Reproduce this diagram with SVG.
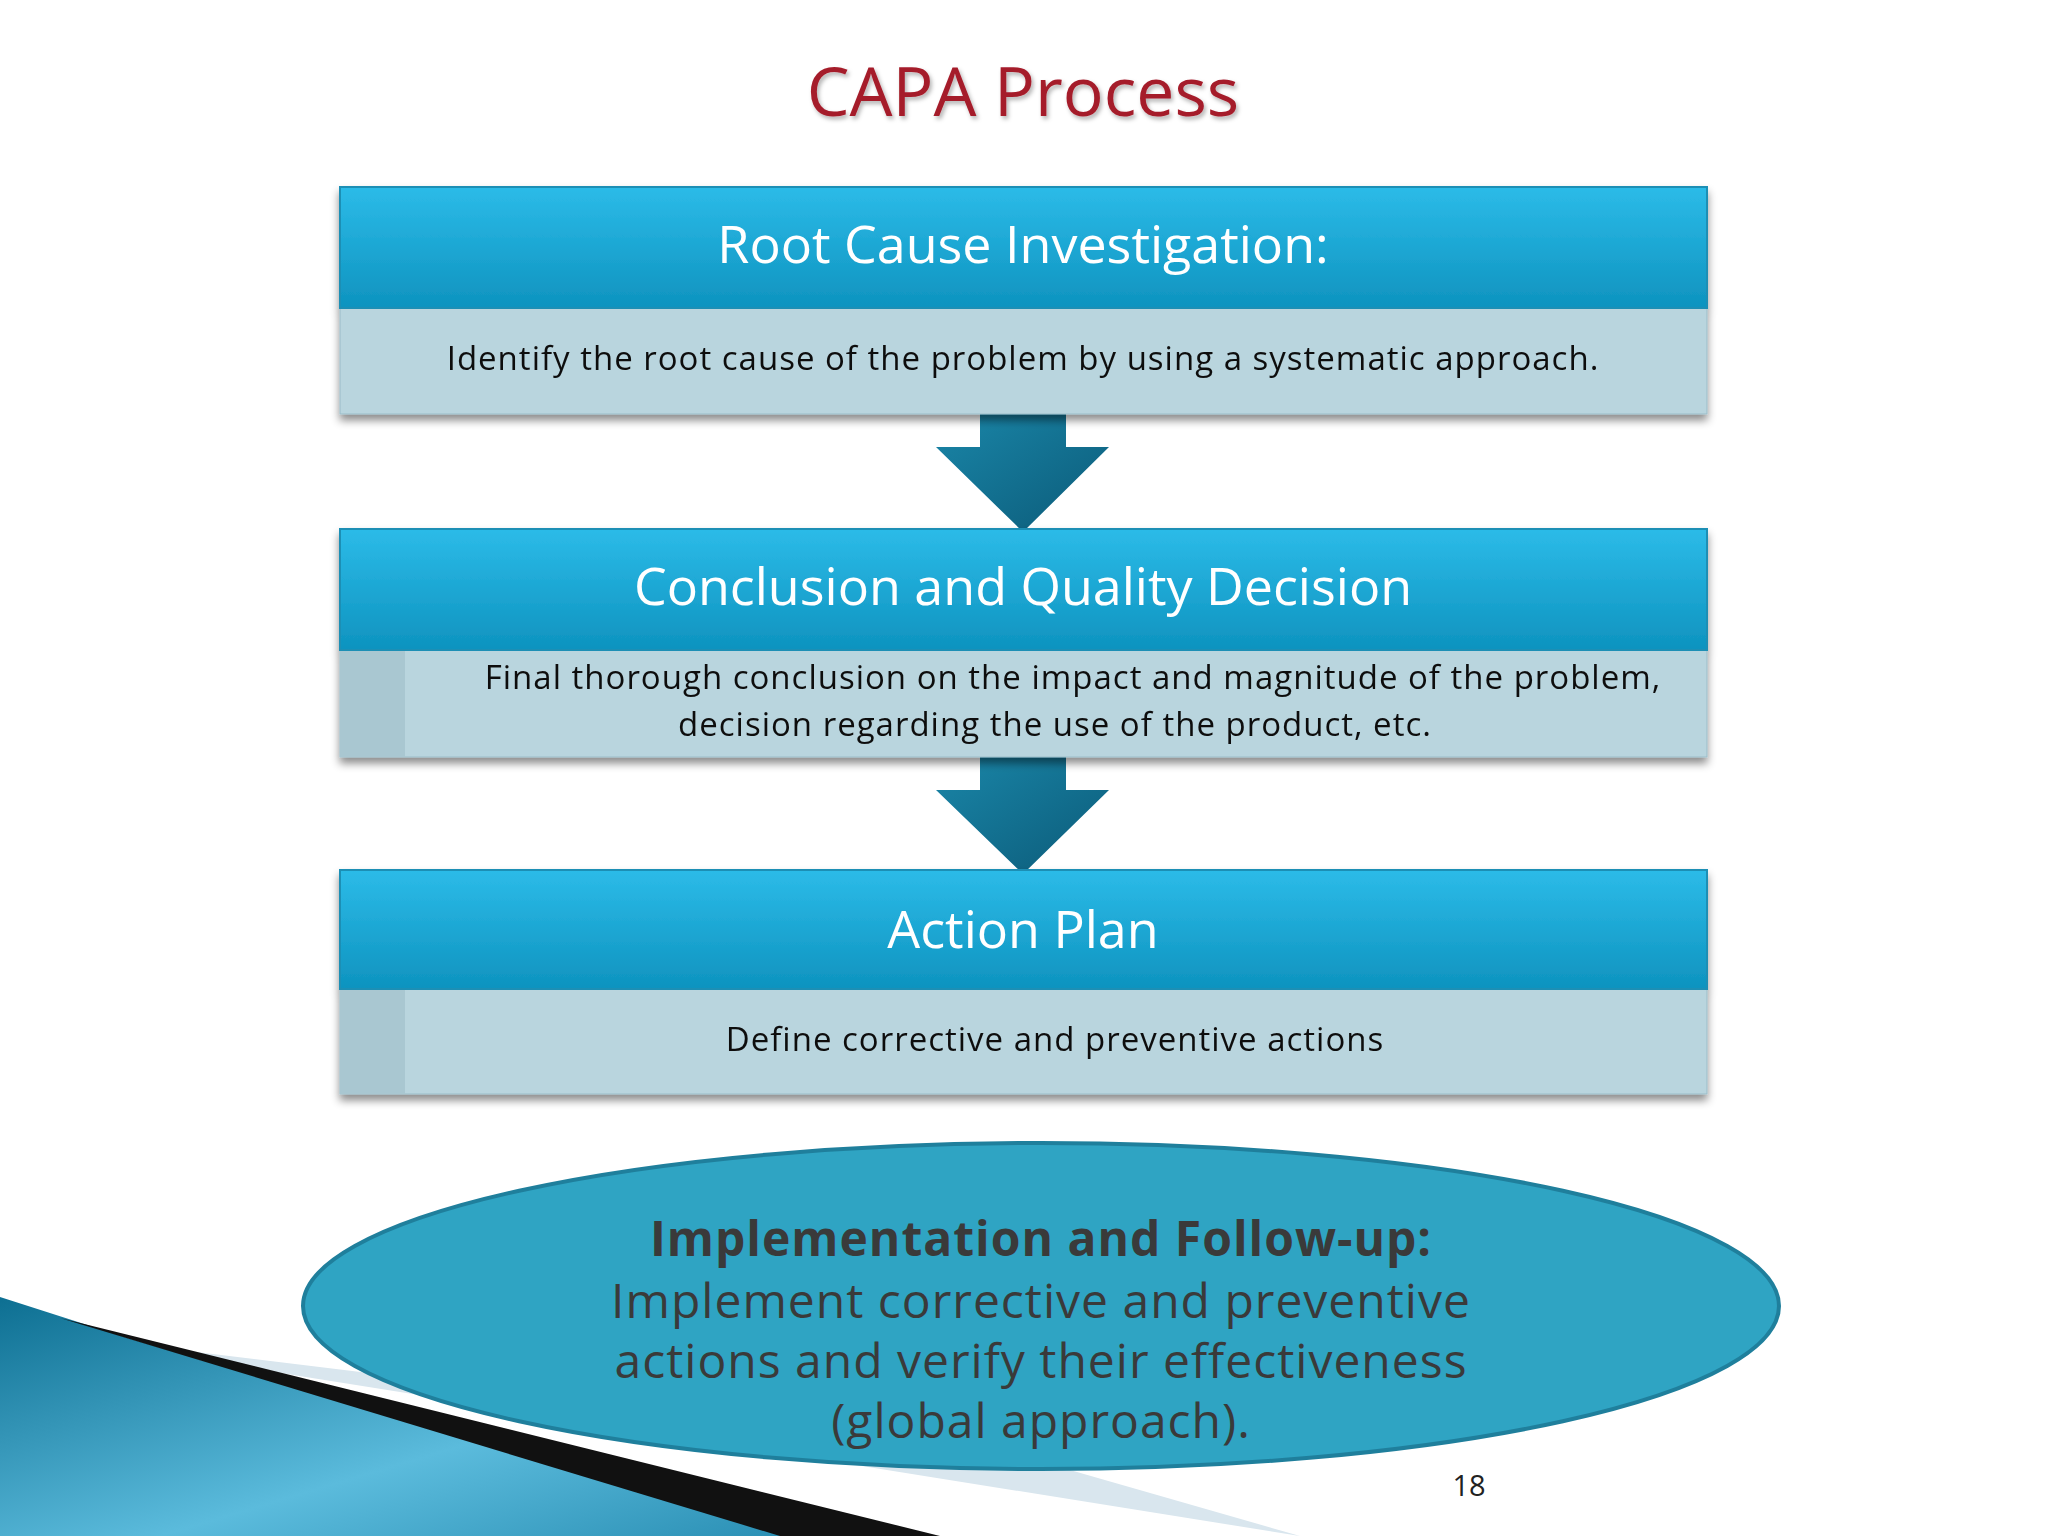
<svg xmlns="http://www.w3.org/2000/svg" width="2048" height="1536" viewBox="0 0 2048 1536">
<defs>
<linearGradient id="hdr" x1="0" y1="0" x2="0" y2="1"><stop offset="0" stop-color="#2cbbe8"/><stop offset="1" stop-color="#0e93bf"/></linearGradient>
<linearGradient id="arr" x1="0" y1="0" x2="1" y2="1"><stop offset="0" stop-color="#1a86a8"/><stop offset="1" stop-color="#0b5a78"/></linearGradient>
<linearGradient id="wedge" x1="0" y1="0" x2="1" y2="1"><stop offset="0" stop-color="#0d6f92"/><stop offset="0.6" stop-color="#5bbbdc"/><stop offset="1" stop-color="#2a8fb4"/></linearGradient>
<filter id="sh" x="-5%" y="-10%" width="110%" height="130%"><feDropShadow dx="0" dy="6" stdDeviation="4" flood-color="#000" flood-opacity="0.45"/></filter>
<filter id="tsh"><feDropShadow dx="2" dy="3" stdDeviation="2" flood-color="#000" flood-opacity="0.3"/></filter>
</defs>
<style>
.hdr{fill:url(#hdr);stroke:#1a8fb5;stroke-width:2}
.body{fill:#b9d5de;stroke:#9bbcc8;stroke-width:1}
.strip{fill:#a9c7d1}
.ht{font-family:"Open Sans","DejaVu Sans",sans-serif;font-size:52px;fill:#fff;text-anchor:middle}
.bt{font-family:"Open Sans","DejaVu Sans",sans-serif;font-size:33px;fill:#111;text-anchor:middle;letter-spacing:1px}
.et{font-family:"Open Sans","DejaVu Sans",sans-serif;font-size:48px;fill:#3a3a3a;text-anchor:middle;letter-spacing:1px}
</style>
<rect width="2048" height="1536" fill="#fff"/>
<g id="deco">
<polygon points="0,1297 131,1339 800,1536 0,1536" fill="url(#wedge)"/>
<polygon points="1300,1536 200,1360 180,1350 1000,1450" fill="#d9e6ee"/>
<polygon points="60,1318 940,1536 780,1536" fill="#111"/>
</g>
<text x="1023" y="116" font-family="'Open Sans','DejaVu Sans',sans-serif" font-size="68" fill="#a51d2b" text-anchor="middle" filter="url(#tsh)">CAPA Process</text>
<g id="connectors">
<polygon points="980,414 1066,414 1066,447 1109,447 1023,532 936,447 980,447" fill="url(#arr)"/>
<polygon points="980,757 1066,757 1066,790 1109,790 1023,874 936,790 980,790" fill="url(#arr)"/>
</g>
<g id="n1" filter="url(#sh)">
<rect class="body" x="340" y="308" width="1367" height="106"/>
<rect class="hdr" x="340" y="187" width="1367" height="121"/>
<text class="ht" x="1023" y="263">Root Cause Investigation:</text>
<text class="bt" x="1023" y="370">Identify the root cause of the problem by using a systematic approach.</text>
</g>
<g id="n2" filter="url(#sh)">
<rect class="body" x="340" y="650" width="1367" height="107"/>
<rect class="strip" x="340" y="650" width="65" height="107"/>
<rect class="hdr" x="340" y="529" width="1367" height="121"/>
<text class="ht" x="1023" y="605">Conclusion and Quality Decision</text>
<text class="bt" x="1073" y="689">Final thorough conclusion on the impact and magnitude of the problem,</text>
<text class="bt" x="1055" y="736">decision regarding the use of the product, etc.</text>
</g>
<g id="n3" filter="url(#sh)">
<rect class="body" x="340" y="989" width="1367" height="105"/>
<rect class="strip" x="340" y="989" width="65" height="105"/>
<rect class="hdr" x="340" y="870" width="1367" height="119"/>
<text class="ht" x="1023" y="948">Action Plan</text>
<text class="bt" x="1055" y="1051">Define corrective and preventive actions</text>
</g>
<g id="n4">
<ellipse cx="1041" cy="1306" rx="738" ry="163" fill="#2fa4c3" stroke="#1f7f9c" stroke-width="4"/>
<text class="et" x="1041" y="1256" font-weight="bold" letter-spacing="0">Implementation and Follow-up:</text>
<text class="et" x="1041" y="1318">Implement corrective and preventive</text>
<text class="et" x="1041" y="1378">actions and verify their effectiveness</text>
<text class="et" x="1041" y="1438">(global approach).</text>
</g>
<text x="1469" y="1496" font-family="'Open Sans','DejaVu Sans',sans-serif" font-size="29" fill="#222" text-anchor="middle">18</text>
</svg>
